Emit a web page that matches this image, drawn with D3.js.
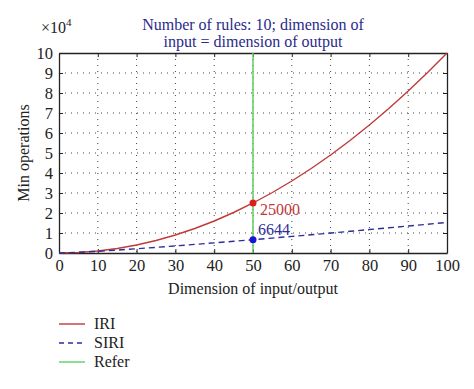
<!DOCTYPE html>
<html><head><meta charset="utf-8">
<script src="https://cdnjs.cloudflare.com/ajax/libs/d3/7.8.5/d3.min.js"></script>
<style>body{margin:0;background:#fff;} svg{display:block;font-family:"Liberation Serif","DejaVu Serif",serif;}</style>
</head><body>
<svg id="c" width="474" height="389"></svg>
<script>
const dims = [0,5,10,15,20,25,30,35,40,45,50,55,60,65,70,75,80,85,90,95,100];
const iri  = [0,250,1000,2250,4000,6250,9000,12250,16000,20250,25000,30250,36000,42250,49000,56250,64000,72250,81000,90250,100000];
const siri = [0,332,864,1472,2129,2822,3544,4290,5058,5843,6644,7459,8288,9129,9981,10844,11715,12596,13485,14383,15288];
const referX = 50;
const markers = [{label:"25000", value:25000, series:"IRI"},{label:"6644", value:6644, series:"SIRI"}];
const xTicks = [0,10,20,30,40,50,60,70,80,90,100];
const yTicks = [0,1,2,3,4,5,6,7,8,9,10];
const titleLines = ["Number of rules: 10; dimension of","input = dimension of output"];
const legendItems = ["IRI","SIRI","Refer"];

const svg = d3.select("#c");
const L=59,R=447,T=53,B=253;
const x = d3.scaleLinear().domain([0,100]).range([L,R]);
const y = d3.scaleLinear().domain([0,100000]).range([B,T]);
const yk = d3.scaleLinear().domain([0,10]).range([B,T]);

const colRed="#c03a3a", colBlue="#2e2e9a", colGreen="#5fcf5f";

// grid
const g = svg.append("g");
g.selectAll("line.gx").data(xTicks.slice(1,-1)).enter().append("line")
 .attr("x1",d=>x(d)).attr("x2",d=>x(d)).attr("y1",T).attr("y2",B)
 .attr("stroke","#444").attr("stroke-width",1).attr("stroke-dasharray","1,5");
g.selectAll("line.gy").data(yTicks.slice(1,-1)).enter().append("line")
 .attr("y1",d=>yk(d)).attr("y2",d=>yk(d)).attr("x1",L).attr("x2",R)
 .attr("stroke","#444").attr("stroke-width",1).attr("stroke-dasharray","1,5");

// axes
const fs = "16.5px";
const ax = svg.append("g").attr("transform",`translate(0,${B})`).call(d3.axisBottom(x).tickValues(xTicks).tickSizeInner(-4).tickSizeOuter(0).tickPadding(6));
const ay = svg.append("g").attr("transform",`translate(${L},0)`).call(d3.axisLeft(yk).tickValues(yTicks).tickSizeInner(-4).tickSizeOuter(0).tickPadding(6));
const at = svg.append("g").attr("transform",`translate(0,${T})`).call(d3.axisTop(x).tickValues(xTicks).tickSizeInner(-4).tickSizeOuter(0).tickFormat(""));
const ar = svg.append("g").attr("transform",`translate(${R},0)`).call(d3.axisRight(yk).tickValues(yTicks).tickSizeInner(-4).tickSizeOuter(0).tickFormat(""));
[ax,ay,at,ar].forEach(a=>{a.selectAll("path").attr("stroke","#222").attr("stroke-width",1.3);a.selectAll("line").attr("stroke","#222");a.selectAll("text").attr("font-size",fs).attr("fill","#222").attr("font-family","Liberation Serif, serif");});

// lines
const line = d3.line().x((d,i)=>x(dims[i])).y(d=>y(d));
svg.append("line").attr("x1",x(referX)).attr("x2",x(referX)).attr("y1",y(0)).attr("y2",y(100000)).attr("stroke",colGreen).attr("stroke-width",1.5);
svg.append("path").attr("d",line(iri)).attr("fill","none").attr("stroke",colRed).attr("stroke-width",1.4);
svg.append("path").attr("d",line(siri)).attr("fill","none").attr("stroke",colBlue).attr("stroke-width",1.4).attr("stroke-dasharray","6,4");

// markers
svg.append("circle").attr("cx",x(referX)).attr("cy",y(markers[0].value)).attr("r",3.5).attr("fill","#e01c1c");
svg.append("circle").attr("cx",x(referX)).attr("cy",y(markers[1].value)).attr("r",3.5).attr("fill","#1515d8");
svg.append("text").attr("x",x(referX)+7).attr("y",y(markers[0].value)+12).attr("font-size","16px").attr("fill",colRed).text(markers[0].label);
svg.append("text").attr("x",x(referX)+5).attr("y",y(markers[1].value)-5).attr("font-size","16px").attr("fill",colBlue).text(markers[1].label);

// title
svg.selectAll("text.title").data(titleLines).enter().append("text")
 .attr("x",(L+R)/2).attr("y",(d,i)=>29.5+i*17.5).attr("text-anchor","middle")
 .attr("font-size","16px").attr("fill","#2b2b8a").text(d=>d);

// x10^4
const ex = svg.append("text").attr("x",41).attr("y",33).attr("font-size","16px").attr("fill","#222");
ex.append("tspan").text("×10");
ex.append("tspan").attr("dy",-7).attr("font-size","11px").text("4");

// axis labels
svg.append("text").attr("transform",`translate(29,${(T+B)/2}) rotate(-90)`).attr("text-anchor","middle").attr("font-size","16px").attr("fill","#222").text("Min operations");
svg.append("text").attr("x",(L+R)/2).attr("y",294).attr("text-anchor","middle").attr("font-size","16px").attr("fill","#222").text("Dimension of input/output");

// legend
const lg = svg.append("g");
const styles=[{c:colRed,d:null},{c:colBlue,d:"5,4"},{c:colGreen,d:null}];
legendItems.forEach((t,i)=>{
  const yy = 324+i*19;
  lg.append("line").attr("x1",59).attr("x2",85).attr("y1",yy).attr("y2",yy).attr("stroke",styles[i].c).attr("stroke-width",1.4).attr("stroke-dasharray",styles[i].d);
  lg.append("text").attr("x",94).attr("y",yy+5).attr("font-size","16px").attr("fill","#222").text(t);
});
</script>
</body></html>
